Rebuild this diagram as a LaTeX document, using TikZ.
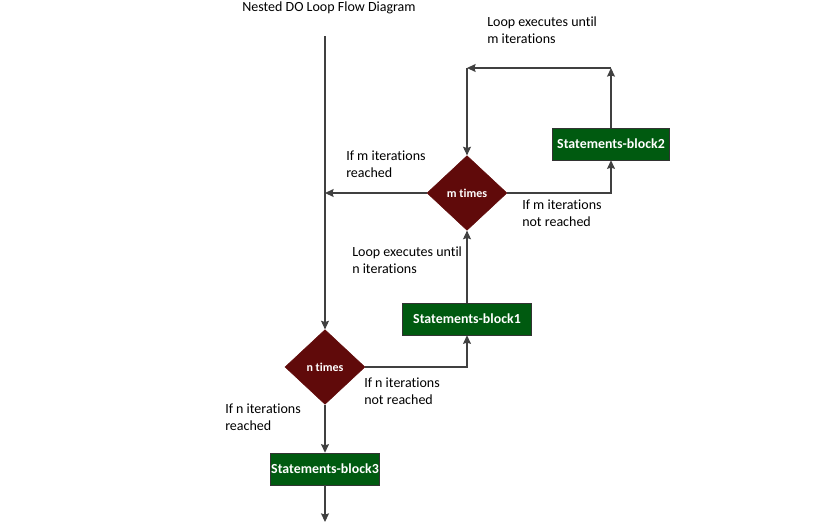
\documentclass[tikz,border=0pt]{standalone}
\usepackage{fontspec}
\setmainfont{Carlito}[Ligatures=NoCommon]
\usetikzlibrary{shapes.geometric,arrows.meta}

\definecolor{decred}{HTML}{600A0A}
\definecolor{blockgreen}{HTML}{005A10}

\tikzstyle{decision}=[diamond,draw=decred,fill=decred,text=white,font=\bfseries\fontsize{9}{10}\selectfont,minimum width=60pt,minimum height=56pt,inner sep=0pt]
\tikzstyle{block}=[rectangle,draw=black!80,fill=blockgreen,text=white,font=\bfseries\fontsize{10.4}{12}\selectfont,minimum height=24pt,inner sep=0pt]
\tikzstyle{note}=[align=left,anchor=north west,inner sep=0pt,font=\fontsize{10.5}{12.5}\selectfont]
\tikzstyle{flow}=[draw=black!75,line width=0.8pt,-{Stealth[length=6.5pt,width=6pt,inset=1pt]}]

\begin{document}
\begin{tikzpicture}[x=0.75pt,y=-0.75pt]
    \useasboundingbox (0,0) rectangle (819,525);

    \node[font=\fontsize{10.5}{12}\selectfont] (title) at (329,8) {Nested DO Loop Flow Diagram};

    \node[decision] (n) at (325,367) {n times};
    \node[decision] (m) at (467,193) {m times};
    \node[block,minimum width=97pt] (sb1) at (467,319) {Statements-block1};
    \node[block,minimum width=88pt] (sb2) at (611,144) {Statements-block2};
    \node[block,minimum width=82pt] (sb3) at (325,469) {Statements-block3};

    \coordinate (start) at (325,36);
    \coordinate (finish) at (325,522);
    \coordinate (ul) at (467,68);
    \coordinate (ur) at (sb2.north |- ul);
    \coordinate (mleft) at (325,193);

    % outer loop
    \draw[flow] (start) -- (n.north);
    \draw[flow] (n.east) -| (sb1.south);
    \draw[flow] (sb1.north) -- (m.south);
    % inner loop
    \draw[flow] (m.east) -| (sb2.south);
    \draw[flow] (sb2.north) -- (ur);
    \draw[flow] (ur) -- (ul);
    \draw[flow] (ul) -- (m.north);
    \draw[flow] (m.west) -- (mleft);
    % exit
    \draw[flow] (n.south) -- (sb3.north);
    \draw[flow] (sb3.south) -- (finish);

    \node[note] (l1) at (487,17) {Loop executes until\\m iterations};
    \node[note] (l2) at (346,151) {If m iterations\\reached};
    \node[note] (l3) at (522,200) {If m iterations\\not reached};
    \node[note] (l4) at (352,247) {Loop executes until\\n iterations};
    \node[note] (l5) at (364,378) {If n iterations\\not reached};
    \node[note] (l6) at (225,404) {If n iterations\\reached};
\end{tikzpicture}
\end{document}
